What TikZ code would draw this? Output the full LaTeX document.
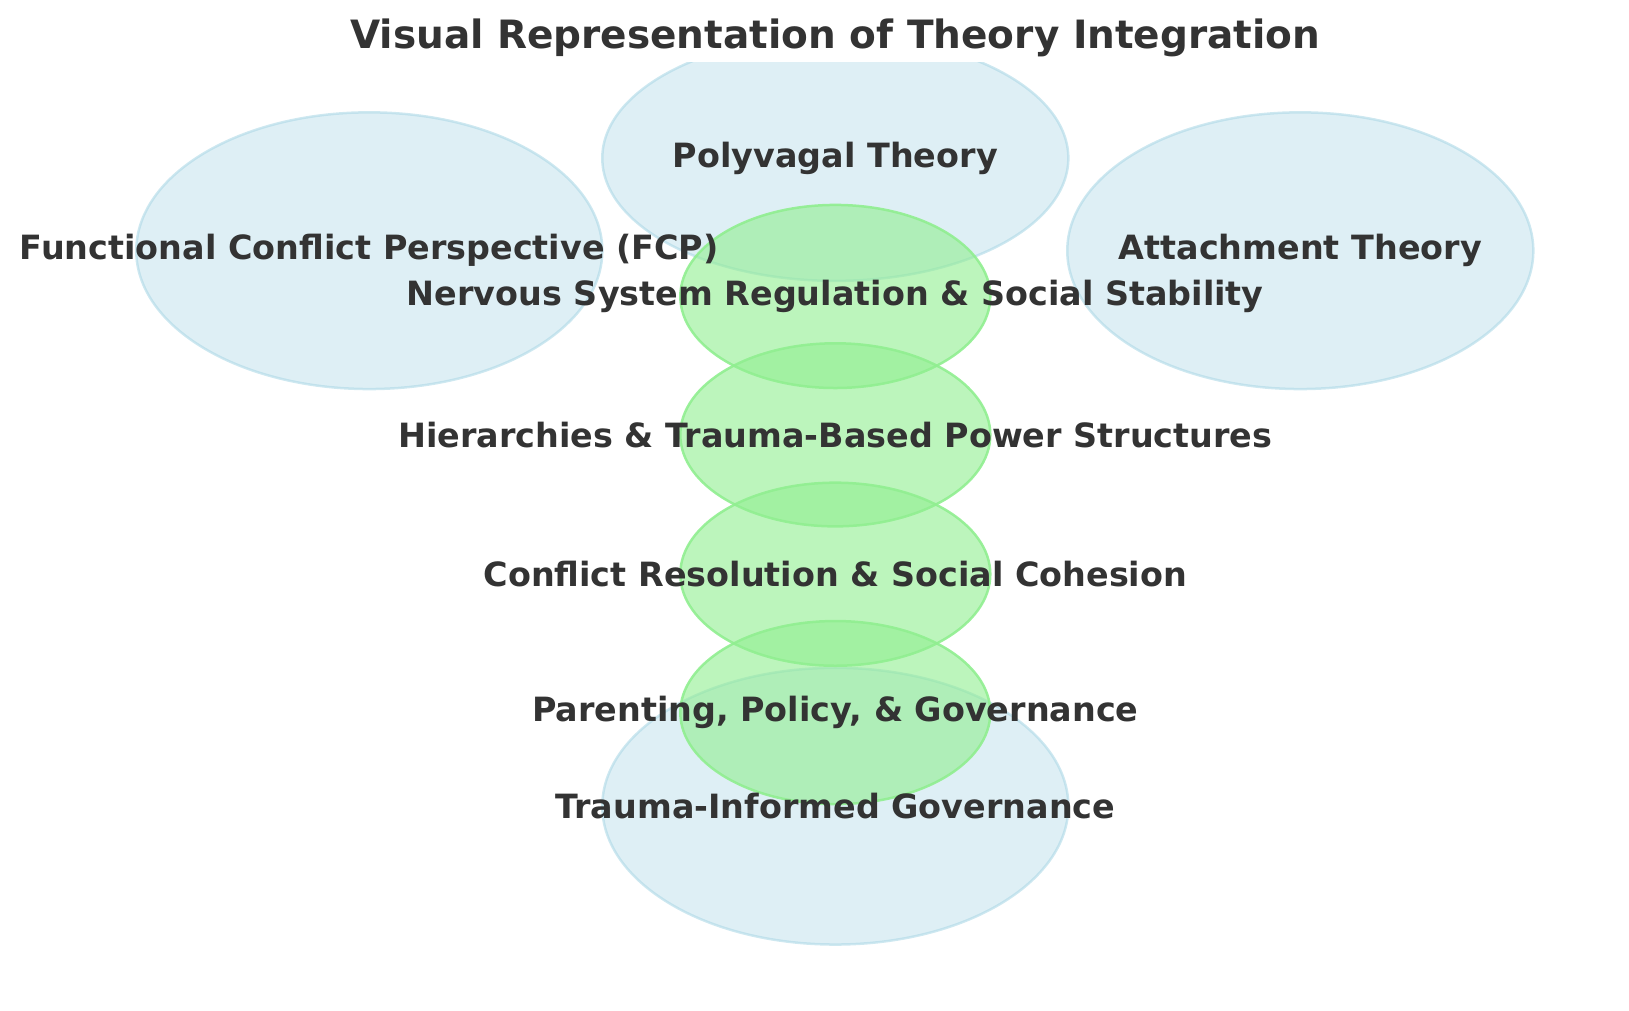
\documentclass[tikz,border=0pt]{standalone}
\usepackage{fontspec}
\setmainfont{DejaVu Sans}
\definecolor{txt}{HTML}{333333}
\definecolor{lb}{HTML}{ADD8E6}
\definecolor{lg}{HTML}{90EE90}
\begin{document}
\begin{tikzpicture}[x=1.0403pt,y=-1.0403pt,
  blue/.style={fill=lb,fill opacity=0.4,draw=lb,draw opacity=0.6,line width=2.5pt},
  green/.style={fill=lg,fill opacity=0.6,draw=lg,draw opacity=0.9,line width=2.5pt},
  lab/.style={text=txt,font=\bfseries\fontsize{33.4}{38}\selectfont}]
\useasboundingbox (0,0) rectangle (1566,971);
\begin{scope}
\clip (0,60) rectangle (1566,971);
\draw[blue] (803,152) ellipse [x radius=224,y radius=118];
\end{scope}
\draw[blue] (355,241) ellipse [x radius=224,y radius=133];
\draw[blue] (1250,241) ellipse [x radius=224,y radius=133];
\draw[blue] (803,775) ellipse [x radius=224,y radius=133];
\foreach \y in {285,418,552,685}{\draw[green] (803,\y) ellipse [x radius=149,y radius=88];}
\node[text=txt,font=\bfseries\fontsize{39}{44}\selectfont] (title) at (803,36) {Visual Representation of Theory Integration};
\node[lab] (poly) at (803,152) {Polyvagal Theory};
\node[lab] (fcp) at (355,241) {Functional Conflict Perspective (FCP)};
\node[lab] (att) at (1250,241) {Attachment Theory};
\node[lab] (nerv) at (803,285) {Nervous System Regulation \& Social Stability};
\node[lab] (hier) at (803,418) {Hierarchies \& Trauma-Based Power Structures};
\node[lab] (conf) at (803,552) {Conflict Resolution \& Social Cohesion};
\node[lab] (par) at (803,685) {Parenting, Policy, \& Governance};
\node[lab] (tig) at (803,775) {Trauma-Informed Governance};
\end{tikzpicture}
\end{document}
